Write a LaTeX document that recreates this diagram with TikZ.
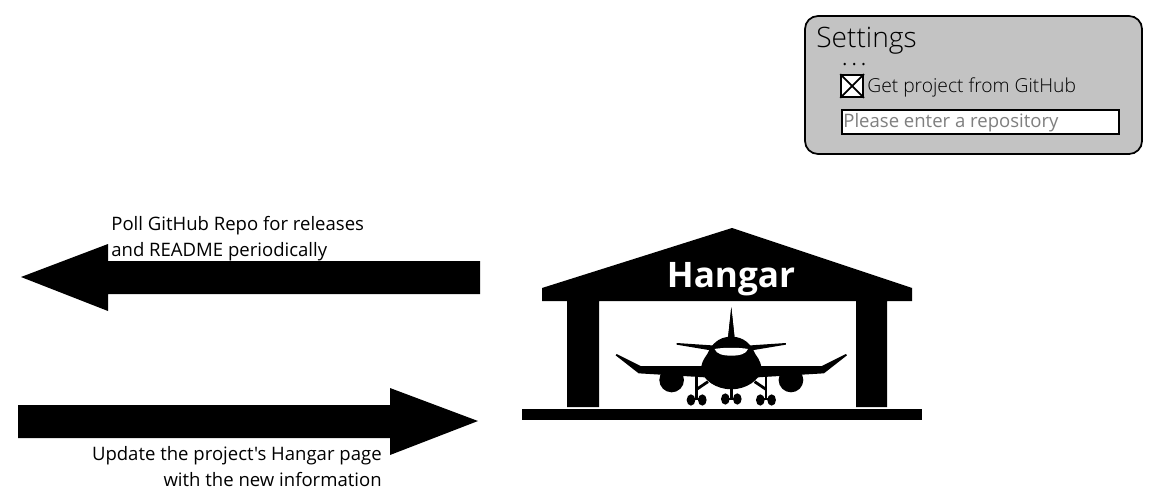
\documentclass[tikz,border=0pt]{standalone}
\usepackage{fontspec}
\setmainfont{Open Sans}
\newfontfamily\bodyfont{Open Sans}
\newfontfamily\lightfont{Open Sans Light}
\definecolor{panelgrey}{HTML}{C3C3C3}
\definecolor{hintgrey}{HTML}{7F7F7F}
\tikzset{
	solid black/.style={fill=black, draw=none},
	plain label/.style={inner sep=0pt, font=\bodyfont\fontsize{10.55}{15}\selectfont},
	wheel/.style={solid black},
	gear/.style={draw=black, line width=1.6pt},
}
\begin{document}
\begin{tikzpicture}[x=0.02cm, y=-0.02cm]
	\useasboundingbox (0, 0) rectangle (1156, 497);
	% Arrows:
	\fill[solid black] (21, 277) -- (108, 244) -- (108, 261) -- (480, 261) -- (480, 294) -- (108, 294) -- (108, 311) -- cycle;
	\fill[solid black] (478, 421) -- (390, 388) -- (390, 405) -- (18, 405) -- (18, 438) -- (390, 438) -- (390, 455) -- cycle;
	\node[plain label, anchor=north west, align=left] (polltext) at (111, 216) {Poll GitHub Repo for releases\\and README periodically};
	\node[plain label, anchor=north east, align=right] (updatetext) at (382, 446) {Update the project's Hangar page\\with the new information};
	% Hangar:
	\fill[solid black] (542, 288) -- (732, 228) -- (912, 288) -- (912, 301) -- (887, 301) -- (887, 407) -- (856, 407) -- (856, 301) -- (599, 301) -- (599, 407) -- (567, 407) -- (567, 301) -- (542, 301) -- cycle;
	\fill[solid black] (522, 409) rectangle (922, 420);
	\node[inner sep=0pt, text=white, font=\bodyfont\fontsize{20}{24}\selectfont\bfseries] (hangartext) at (731, 279) {Hangar};
	% Plane:
	\begin{scope}[shift={(731.3, 280)}, x=0.00667cm, y=-0.00667cm]
		\foreach \side in {1, -1} {
			\begin{scope}[xscale=\side]
				\fill[solid black] (0, 82) -- (10, 175) -- (-10, 175) -- cycle;
				\fill[solid black] (164, 189) -- (164, 194) -- (50, 213) -- (45, 197) -- cycle;
				\fill[solid black] (344, 222) -- (347, 226) -- (278, 280) -- (80, 292) -- (80, 258) -- (272, 258) -- cycle;
				\fill[solid black] (179, 300) circle (37);
				\fill[solid black] (-3, 170) -- (0, 170) .. controls (40, 170) and (60, 195) .. (72, 222) .. controls (85, 240) and (92, 255) .. (90, 270) .. controls (85, 300) and (45, 328) .. (0, 328) -- (-3, 328) -- cycle;
				\draw[gear] (104, 285) -- (104, 355);
				\draw[gear] (104, 328) -- (70, 305);
				\draw[gear] (87, 357) -- (121, 357);
				\fill[wheel] (87, 360) ellipse (13 and 17);
				\fill[wheel] (121, 360) ellipse (13 and 17);
				\fill[wheel] (18, 357) ellipse (13 and 17);
			\end{scope}
		}
		\draw[gear] (0, 325) -- (0, 357);
		\draw[gear] (-18, 357) -- (18, 357);
		\fill[white] (-50, 207) .. controls (-25, 202) and (25, 202) .. (50, 207) .. controls (45, 222) and (25, 227) .. (0, 227) .. controls (-25, 227) and (-45, 222) .. (-50, 207) -- cycle;
	\end{scope}
	% Settings panel:
	\draw[fill=panelgrey, line width=1pt, rounded corners=0.26cm] (805, 16) rectangle (1142, 154);
	\node[inner sep=0pt, anchor=base west, font=\lightfont\fontsize{16}{18}\selectfont] (settingstext) at (816, 47) {Settings};
	\node[plain label, anchor=base west] (dotstext) at (842, 65) {.\hspace{0.9mm}.\hspace{0.9mm}.};
	\node[draw, fill=white, line width=1pt, minimum size=0.44cm, inner sep=0pt] (checkbox) at (852, 86) {};
	\draw[line width=1pt] (checkbox.north west) -- (checkbox.south east) (checkbox.north east) -- (checkbox.south west);
	\node[plain label, anchor=base west, font=\lightfont\fontsize{10.95}{15}\selectfont] (repotext) at (867, 92) {Get project from GitHub};
	\node[draw, fill=white, line width=1pt, minimum width=5.54cm, minimum height=0.48cm, anchor=north west, inner sep=0pt] (repoinput) at (841, 109) {};
	\node[plain label, anchor=base west, text=hintgrey] (hinttext) at (843, 127) {Please enter a repository};
\end{tikzpicture}
\end{document}
